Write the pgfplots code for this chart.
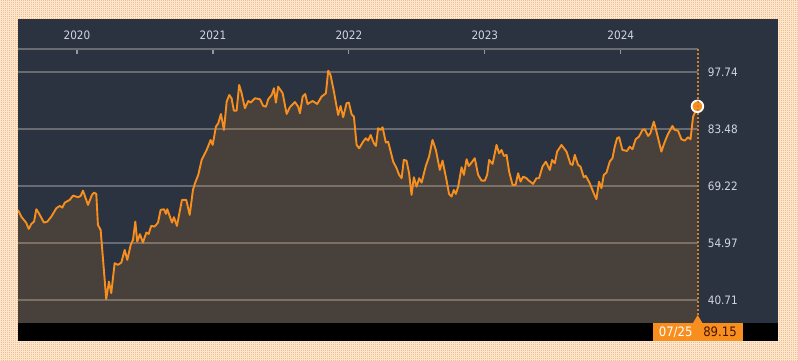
\documentclass[border=0pt]{standalone}
\usepackage{pgfplots}
\pgfplotsset{compat=1.18}
\usepackage{pgfplotstable}
\usepackage{fontspec}
\setmainfont{DejaVu Sans Condensed}
\usetikzlibrary{patterns}
\pgfdeclarepatternformonly{pxdots}{\pgfpointorigin}{\pgfpoint{2pt}{2pt}}{\pgfpoint{2pt}{2pt}}{\pgfpathrectangle{\pgfpointorigin}{\pgfpoint{1pt}{1pt}}\pgfusepath{fill}}
\definecolor{panel}{RGB}{42,51,63}
\definecolor{lineor}{RGB}{247,142,30}
\definecolor{dotor}{RGB}{240,140,40}
\definecolor{gridc}{RGB}{104,108,114}
\definecolor{lab}{RGB}{208,214,224}
\definecolor{darklab}{RGB}{70,20,5}
\pgfplotstableread{
x y
2019.566 63.24
2019.590 61.56
2019.627 59.99
2019.645 58.49
2019.664 59.74
2019.684 60.32
2019.701 63.42
2019.718 62.49
2019.757 60.07
2019.782 60.32
2019.811 61.57
2019.848 63.67
2019.873 64.24
2019.892 63.82
2019.910 65.07
2019.946 65.74
2019.971 66.82
2020.007 66.42
2020.027 66.74
2020.044 68.07
2020.081 64.49
2020.110 66.99
2020.125 67.57
2020.142 67.24
2020.154 59.49
2020.174 58.24
2020.215 40.92
2020.235 45.32
2020.252 42.42
2020.277 49.92
2020.301 49.49
2020.326 50.07
2020.351 53.24
2020.370 50.74
2020.395 54.49
2020.412 55.74
2020.429 60.32
2020.443 55.32
2020.463 57.17
2020.485 55.07
2020.510 57.57
2020.527 57.24
2020.546 59.24
2020.571 59.07
2020.596 60.07
2020.615 63.24
2020.640 63.42
2020.654 62.24
2020.664 63.42
2020.699 60.07
2020.713 61.42
2020.735 59.24
2020.772 65.74
2020.804 65.74
2020.829 61.99
2020.853 68.24
2020.868 69.92
2020.892 72.00
2020.917 75.74
2020.954 78.24
2020.983 80.74
2020.998 79.49
2021.022 84.07
2021.039 84.92
2021.059 87.24
2021.081 83.24
2021.101 90.32
2021.120 91.99
2021.137 91.17
2021.154 88.07
2021.174 88.07
2021.193 94.49
2021.211 92.42
2021.235 88.67
2021.260 90.49
2021.277 90.07
2021.309 91.17
2021.346 90.92
2021.370 89.24
2021.390 89.07
2021.407 90.92
2021.432 91.99
2021.449 93.67
2021.463 90.07
2021.480 94.07
2021.513 92.42
2021.542 87.24
2021.566 88.92
2021.603 90.24
2021.627 89.07
2021.640 87.42
2021.660 91.57
2021.679 92.24
2021.696 89.74
2021.733 90.49
2021.767 89.74
2021.799 91.57
2021.831 92.42
2021.848 98.07
2021.865 96.99
2021.890 92.82
2021.921 86.99
2021.939 89.24
2021.958 86.42
2021.983 89.92
2022.000 90.07
2022.020 87.17
2022.037 86.57
2022.057 79.49
2022.076 78.67
2022.105 80.32
2022.125 81.17
2022.142 80.57
2022.160 81.99
2022.184 79.92
2022.199 79.24
2022.215 83.67
2022.233 83.24
2022.248 83.92
2022.272 80.07
2022.289 80.32
2022.326 75.32
2022.351 73.67
2022.370 71.99
2022.388 71.17
2022.404 75.74
2022.424 75.57
2022.443 72.42
2022.461 66.99
2022.478 71.42
2022.498 69.07
2022.517 71.17
2022.535 70.07
2022.566 74.24
2022.590 76.57
2022.615 80.74
2022.640 78.24
2022.669 73.24
2022.689 75.57
2022.718 70.74
2022.737 67.24
2022.755 66.57
2022.772 68.24
2022.787 67.24
2022.804 69.07
2022.829 73.92
2022.846 71.99
2022.866 75.92
2022.882 74.24
2022.895 74.74
2022.926 76.17
2022.951 71.99
2022.976 70.57
2023.000 70.57
2023.017 71.99
2023.032 75.74
2023.057 74.74
2023.086 79.49
2023.105 77.42
2023.123 78.24
2023.140 76.74
2023.160 76.99
2023.179 72.82
2023.204 69.49
2023.226 69.49
2023.245 72.42
2023.263 70.32
2023.282 71.57
2023.307 71.17
2023.318 70.74
2023.355 69.74
2023.380 71.17
2023.399 71.17
2023.424 74.07
2023.449 75.32
2023.478 73.24
2023.495 75.74
2023.515 74.92
2023.532 77.82
2023.564 79.49
2023.601 77.82
2023.630 74.74
2023.645 74.49
2023.662 76.99
2023.686 74.49
2023.704 74.07
2023.728 71.42
2023.743 71.74
2023.772 69.92
2023.801 67.42
2023.821 65.92
2023.840 70.32
2023.858 68.67
2023.875 71.99
2023.895 72.57
2023.919 75.32
2023.939 76.17
2023.956 79.07
2023.973 81.17
2023.988 81.42
2024.012 78.24
2024.046 77.99
2024.066 79.07
2024.086 78.42
2024.110 80.92
2024.134 81.57
2024.159 83.24
2024.176 83.42
2024.201 81.74
2024.218 82.42
2024.243 85.32
2024.263 82.82
2024.299 77.82
2024.324 80.32
2024.348 82.24
2024.380 84.24
2024.397 83.24
2024.421 83.07
2024.446 80.92
2024.471 80.57
2024.495 81.42
2024.513 80.92
2024.532 86.57
2024.551 88.07
2024.564 89.15
}\prices
\begin{document}
\begin{tikzpicture}[x=1pt,y=1pt]
\fill[dotor!22!white] (0,0) rectangle (798,361);
\fill[pattern=pxdots, pattern color=dotor] (0,0) rectangle (798,361);
\fill[panel] (18,20) rectangle (778,342);
\fill[black] (18,20) rectangle (778,38);
\begin{axis}[
  at={(18pt,38pt)}, anchor=south west,
  scale only axis, width=679.7pt, height=274pt,
  xmin=2019.566, xmax=2024.566,
  ymin=34.957, ymax=103.49,
  axis line style={draw=none},
  xtick={2020,2021,2022,2023,2024},
  xticklabels={2020,2021,2022,2023,2024},
  xticklabel pos=right,
  xtick pos=right,
  tick align=inside,
  major tick length=5pt,
  xtick style={draw=gridc!70!white, line width=1.2pt},
  ytick={40.71,54.97,69.22,83.48,97.74},
  yticklabels={40.71,54.97,69.22,83.48,97.74},
  yticklabel pos=right,
  ytick style={draw=none},
  ymajorgrids,
  major grid style={draw=gridc, line width=1.6pt},
  /pgf/number format/assume math mode=true,
  tick label style={font=\fontsize{11.6}{13}\selectfont, text=lab, inner sep=0pt},
  xticklabel style={anchor=base, yshift=9pt},
  yticklabel style={anchor=west, xshift=10pt},
]
\addplot[draw=none, fill=lineor, fill opacity=0.15] table[x=x,y=y] {\prices} \closedcycle;
\addplot[lineor, line width=1.9pt, line join=round] table[x=x,y=y] {\prices};
\addplot[only marks, mark=*, mark size=5.8pt, mark options={fill=lineor, draw=white, line width=1.8pt}] coordinates {(2024.564,89.15)};
\end{axis}
\draw[gridc, line width=1.6pt] (18,312) -- (697.7,312);
\draw[dotor!90!black, line width=2pt, dash pattern=on 2pt off 2pt] (697.7,38) -- (697.7,312);
\fill[lineor] (693,38) -- (702.4,38) -- (697.7,46) -- cycle;
\fill[lineor] (653,20) rectangle (743,38);
\node[text=white, font=\fontsize{13}{15}\selectfont, inner sep=0pt] at (675.7,29) {07/25};
\node[text=darklab, font=\fontsize{13}{15}\selectfont, inner sep=0pt] at (720,29) {89.15};
\end{tikzpicture}
\end{document}
